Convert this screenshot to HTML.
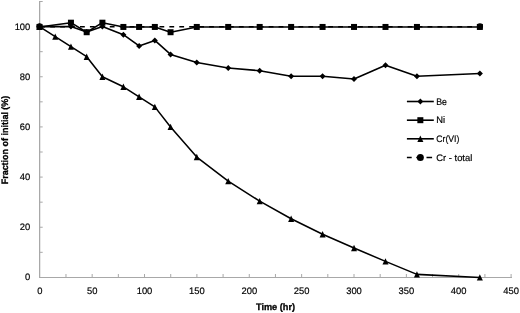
<!DOCTYPE html>
<html lang="en"><head><meta charset="utf-8"><title>Fraction of initial vs Time</title>
<style>html,body{margin:0;padding:0;background:#fff;overflow:hidden}svg{display:block}text{font-family:"Liberation Sans", Arial, sans-serif;fill:#000;text-rendering:geometricPrecision;stroke:#000;stroke-width:0.18px}</style></head><body>
<svg width="520" height="313" viewBox="0 0 520 313">
<rect width="520" height="313" fill="#fff"/>
<g shape-rendering="crispEdges">
<rect x="39" y="1.00" width="1" height="277.00" fill="#a8a8a8"/>
<rect x="40" y="1.00" width="1" height="276.00" fill="#e8e8e8"/>
<rect x="39" y="277" width="473.00" height="1" fill="#a8a8a8"/>
</g>
<g stroke="#a8a8a8" stroke-width="1" fill="none">
<line x1="65.98" y1="277.0" x2="65.98" y2="274.0"/>
<line x1="92.17" y1="277.0" x2="92.17" y2="274.0"/>
<line x1="118.35" y1="277.0" x2="118.35" y2="274.0"/>
<line x1="144.53" y1="277.0" x2="144.53" y2="274.0"/>
<line x1="170.72" y1="277.0" x2="170.72" y2="274.0"/>
<line x1="196.90" y1="277.0" x2="196.90" y2="274.0"/>
<line x1="223.08" y1="277.0" x2="223.08" y2="274.0"/>
<line x1="249.27" y1="277.0" x2="249.27" y2="274.0"/>
<line x1="275.45" y1="277.0" x2="275.45" y2="274.0"/>
<line x1="301.63" y1="277.0" x2="301.63" y2="274.0"/>
<line x1="327.82" y1="277.0" x2="327.82" y2="274.0"/>
<line x1="354.00" y1="277.0" x2="354.00" y2="274.0"/>
<line x1="380.18" y1="277.0" x2="380.18" y2="274.0"/>
<line x1="406.37" y1="277.0" x2="406.37" y2="274.0"/>
<line x1="432.55" y1="277.0" x2="432.55" y2="274.0"/>
<line x1="458.73" y1="277.0" x2="458.73" y2="274.0"/>
<line x1="484.92" y1="277.0" x2="484.92" y2="274.0"/>
<line x1="511.10" y1="277.0" x2="511.10" y2="274.0"/>
<line x1="40.0" y1="252.32" x2="42.7" y2="252.32"/>
<line x1="40.0" y1="227.24" x2="42.7" y2="227.24"/>
<line x1="40.0" y1="202.16" x2="42.7" y2="202.16"/>
<line x1="40.0" y1="177.08" x2="42.7" y2="177.08"/>
<line x1="40.0" y1="152.00" x2="42.7" y2="152.00"/>
<line x1="40.0" y1="126.92" x2="42.7" y2="126.92"/>
<line x1="40.0" y1="101.84" x2="42.7" y2="101.84"/>
<line x1="40.0" y1="76.76" x2="42.7" y2="76.76"/>
<line x1="40.0" y1="51.68" x2="42.7" y2="51.68"/>
<line x1="40.0" y1="26.60" x2="42.7" y2="26.60"/>
<line x1="40.0" y1="1.52" x2="42.7" y2="1.52"/>
</g>
<g font-size="9.4">
<text x="39.8" y="294.1" text-anchor="middle">0</text>
<text x="92.2" y="294.1" text-anchor="middle">50</text>
<text x="144.5" y="294.1" text-anchor="middle">100</text>
<text x="196.9" y="294.1" text-anchor="middle">150</text>
<text x="249.3" y="294.1" text-anchor="middle">200</text>
<text x="301.6" y="294.1" text-anchor="middle">250</text>
<text x="354.0" y="294.1" text-anchor="middle">300</text>
<text x="406.4" y="294.1" text-anchor="middle">350</text>
<text x="458.7" y="294.1" text-anchor="middle">400</text>
<text x="511.1" y="294.1" text-anchor="middle">450</text>
<text x="30.3" y="280.4" text-anchor="end">0</text>
<text x="30.3" y="230.3" text-anchor="end">20</text>
<text x="30.3" y="180.1" text-anchor="end">40</text>
<text x="30.3" y="130.0" text-anchor="end">60</text>
<text x="30.3" y="79.8" text-anchor="end">80</text>
<text x="30.3" y="29.6" text-anchor="end">100</text>
</g>
<text transform="translate(275.5,309.6) scale(0.98,1)" text-anchor="middle" style="stroke-width:0.3px" font-size="9.4" font-weight="bold">Time (hr)</text>
<text transform="translate(7.9,140.0) rotate(-90) scale(0.956,1)" text-anchor="middle" style="stroke-width:0.3px" font-size="9.4" font-weight="bold">Fraction of initial (%)</text>
<polyline points="39.50,26.60 70.95,26.60 86.68,32.12 102.41,26.60 123.38,34.63 139.10,45.91 154.83,40.39 170.56,54.44 196.77,62.46 228.22,67.98 259.67,70.74 291.13,76.26 322.58,76.26 354.03,79.02 385.49,65.22 416.94,76.26 479.85,73.50" fill="none" stroke="#000" stroke-linejoin="round" stroke-width="1.6"/>
<g fill="#000"><path d="M39.50 23.60L42.50 26.60L39.50 29.60L36.50 26.60Z"/><path d="M70.95 23.60L73.95 26.60L70.95 29.60L67.95 26.60Z"/><path d="M86.68 29.12L89.68 32.12L86.68 35.12L83.68 32.12Z"/><path d="M102.41 23.60L105.41 26.60L102.41 29.60L99.41 26.60Z"/><path d="M123.38 31.63L126.38 34.63L123.38 37.63L120.38 34.63Z"/><path d="M139.10 42.91L142.10 45.91L139.10 48.91L136.10 45.91Z"/><path d="M154.83 37.39L157.83 40.39L154.83 43.39L151.83 40.39Z"/><path d="M170.56 51.44L173.56 54.44L170.56 57.44L167.56 54.44Z"/><path d="M196.77 59.46L199.77 62.46L196.77 65.46L193.77 62.46Z"/><path d="M228.22 64.98L231.22 67.98L228.22 70.98L225.22 67.98Z"/><path d="M259.67 67.74L262.67 70.74L259.67 73.74L256.67 70.74Z"/><path d="M291.13 73.26L294.13 76.26L291.13 79.26L288.13 76.26Z"/><path d="M322.58 73.26L325.58 76.26L322.58 79.26L319.58 76.26Z"/><path d="M354.03 76.02L357.03 79.02L354.03 82.02L351.03 79.02Z"/><path d="M385.49 62.22L388.49 65.22L385.49 68.22L382.49 65.22Z"/><path d="M416.94 73.26L419.94 76.26L416.94 79.26L413.94 76.26Z"/><path d="M479.85 70.50L482.85 73.50L479.85 76.50L476.85 73.50Z"/></g>
<polyline points="39.50,26.95 70.95,22.69 86.68,32.22 102.41,22.69 123.38,26.95 139.10,26.95 154.83,26.95 170.56,32.22 196.77,26.95 228.22,26.95 259.67,26.95 291.13,26.95 322.58,26.95 354.03,26.95 385.49,26.95 416.94,26.95 479.85,26.95" fill="none" stroke="#000" stroke-linejoin="round" stroke-width="1.55"/>
<g fill="#000"><rect x="36.50" y="23.95" width="6.00" height="6.00"/><rect x="67.95" y="19.69" width="6.00" height="6.00"/><rect x="83.68" y="29.22" width="6.00" height="6.00"/><rect x="99.41" y="19.69" width="6.00" height="6.00"/><rect x="120.38" y="23.95" width="6.00" height="6.00"/><rect x="136.10" y="23.95" width="6.00" height="6.00"/><rect x="151.83" y="23.95" width="6.00" height="6.00"/><rect x="167.56" y="29.22" width="6.00" height="6.00"/><rect x="193.77" y="23.95" width="6.00" height="6.00"/><rect x="225.22" y="23.95" width="6.00" height="6.00"/><rect x="256.67" y="23.95" width="6.00" height="6.00"/><rect x="288.13" y="23.95" width="6.00" height="6.00"/><rect x="319.58" y="23.95" width="6.00" height="6.00"/><rect x="351.03" y="23.95" width="6.00" height="6.00"/><rect x="382.49" y="23.95" width="6.00" height="6.00"/><rect x="413.94" y="23.95" width="6.00" height="6.00"/><rect x="476.85" y="23.95" width="6.00" height="6.00"/></g>
<polyline points="39.50,26.60 55.23,36.63 70.95,46.66 86.68,56.70 102.41,76.76 123.38,86.79 139.10,96.82 154.83,106.86 170.56,126.92 196.77,157.02 228.22,181.09 259.67,201.16 291.13,218.71 322.58,234.26 354.03,248.06 385.49,261.35 416.94,274.39 479.85,277.40" fill="none" stroke="#000" stroke-linejoin="round" stroke-width="1.55"/>
<g fill="#000"><path d="M39.50 23.40L42.51 29.80L36.49 29.80Z"/><path d="M55.23 33.43L58.23 39.83L52.22 39.83Z"/><path d="M70.95 43.46L73.96 49.86L67.95 49.86Z"/><path d="M86.68 53.50L89.69 59.90L83.67 59.90Z"/><path d="M102.41 73.56L105.41 79.96L99.40 79.96Z"/><path d="M123.38 83.59L126.38 89.99L120.37 89.99Z"/><path d="M139.10 93.62L142.11 100.02L136.09 100.02Z"/><path d="M154.83 103.66L157.84 110.06L151.82 110.06Z"/><path d="M170.56 123.72L173.56 130.12L167.55 130.12Z"/><path d="M196.77 153.82L199.77 160.22L193.76 160.22Z"/><path d="M228.22 177.89L231.23 184.29L225.21 184.29Z"/><path d="M259.67 197.96L262.68 204.36L256.67 204.36Z"/><path d="M291.13 215.51L294.13 221.91L288.12 221.91Z"/><path d="M322.58 231.06L325.59 237.46L319.57 237.46Z"/><path d="M354.03 244.86L357.04 251.26L351.03 251.26Z"/><path d="M385.49 258.15L388.49 264.55L382.48 264.55Z"/><path d="M416.94 271.19L419.95 277.59L413.93 277.59Z"/><path d="M479.85 274.20L482.85 280.60L476.84 280.60Z"/></g>
<polyline points="39.50,26.80 479.85,26.80" fill="none" stroke="#000" stroke-linejoin="round" stroke-width="1.6" stroke-dasharray="4.8 5.13" stroke-dashoffset="9.15"/>
<g fill="#000"><circle cx="39.60" cy="26.40" r="3.05"/><circle cx="479.95" cy="26.40" r="3.05"/></g>
<line x1="406.9" y1="101.5" x2="433.8" y2="101.5" stroke="#000" stroke-width="1.6"/>
<g fill="#000"><path d="M420.35 98.60L423.25 101.50L420.35 104.40L417.45 101.50Z"/></g>
<text transform="translate(436.3,104.5) scale(0.930,1)" font-size="9.4">Be</text>
<line x1="406.9" y1="120.2" x2="433.8" y2="120.2" stroke="#000" stroke-width="1.6"/>
<g fill="#000"><rect x="417.35" y="117.20" width="6.00" height="6.00"/></g>
<text transform="translate(436.3,123.2) scale(1.000,1)" font-size="9.4">Ni</text>
<line x1="406.9" y1="138.8" x2="433.8" y2="138.8" stroke="#000" stroke-width="1.6"/>
<g fill="#000"><path d="M420.35 135.60L423.36 142.00L417.34 142.00Z"/></g>
<text transform="translate(436.3,141.8) scale(0.925,1)" font-size="9.4">Cr(VI)</text>
<line x1="406.9" y1="157.5" x2="433.8" y2="157.5" stroke="#000" stroke-width="1.6" stroke-dasharray="5.6 4.6" stroke-dashoffset="0.8"/>
<g fill="#000"><circle cx="420.35" cy="157.50" r="3.50"/></g>
<text transform="translate(436.3,160.5) scale(1.000,1)" font-size="9.4">Cr - total</text>
</svg></body></html>
